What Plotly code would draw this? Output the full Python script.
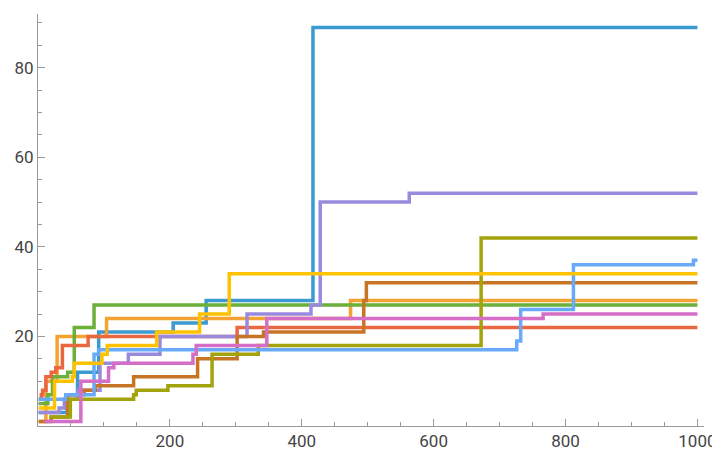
import plotly.graph_objects as go

# running-maximum step series: (x where value changes, new value)
blue_x = [1, 44, 60, 92, 205, 255, 417, 1000]
blue_y = [3, 7, 12, 21, 23, 28, 89, 89]
orange_x = [1, 12, 29, 104, 474, 1000]
orange_y = [1, 10, 20, 24, 28, 28]
green_x = [1, 15, 22, 45, 55, 85, 1000]
green_y = [5, 7, 11, 12, 22, 27, 27]
red_x = [1, 5, 7, 12, 20, 27, 37, 76, 302, 1000]
red_y = [6, 7, 8, 11, 12, 13, 18, 20, 22, 22]
purple_x = [1, 32, 40, 60, 94, 137, 185, 317, 414, 428, 563, 1000]
purple_y = [3, 4, 6, 8, 14, 16, 20, 25, 27, 50, 52, 52]
brown_x = [1, 20, 45, 70, 87, 145, 242, 302, 342, 494, 498, 1000]
brown_y = [1, 2, 7, 8, 9, 11, 15, 20, 21, 28, 32, 32]
olive_x = [17, 49, 145, 149, 197, 264, 334, 672, 1000]
olive_y = [2, 6, 7, 8, 9, 16, 18, 42, 42]
lightblue_x = [1, 42, 85, 92, 726, 732, 812, 994, 1000]
lightblue_y = [6, 7, 16, 17, 19, 26, 36, 37, 37]
pink_x = [10, 65, 107, 115, 235, 240, 347, 766, 1000]
pink_y = [1, 10, 13, 14, 16, 18, 24, 25, 25]
yellow_x = [1, 25, 52, 55, 97, 105, 180, 245, 290, 1000]
yellow_y = [4, 10, 11, 14, 16, 18, 21, 25, 34, 34]

series = [
    (blue_x, blue_y, "#3b9ad0"),
    (orange_x, orange_y, "#f4a232"),
    (green_x, green_y, "#6bb03a"),
    (red_x, red_y, "#e9683f"),
    (purple_x, purple_y, "#9a8ade"),
    (brown_x, brown_y, "#c77524"),
    (olive_x, olive_y, "#a3a30c"),
    (lightblue_x, lightblue_y, "#68aaf7"),
    (pink_x, pink_y, "#d46ec6"),
    (yellow_x, yellow_y, "#fec200"),
]

fig = go.Figure()
for xs, ys, c in series:
    fig.add_trace(go.Scatter(x=xs, y=ys, mode="lines", line_shape="hv",
                             line=dict(color=c, width=3.5), showlegend=False))

axis_style = dict(showgrid=False, zeroline=False, showline=True, linecolor="#999",
                  linewidth=1, ticks="inside", ticklen=7, tickcolor="#999",
                  tickfont=dict(family="Roboto", size=17, color="#444"))
fig.update_xaxes(range=[0, 1010], tickvals=[200, 400, 600, 800, 1000],
                 minor=dict(dtick=50, ticklen=4, ticks="inside", tickcolor="#999"),
                 **axis_style)
fig.update_yaxes(range=[0, 92], tickvals=[20, 40, 60, 80],
                 minor=dict(dtick=5, ticklen=4, ticks="inside", tickcolor="#999"),
                 **axis_style)
fig.update_layout(width=720, height=454, plot_bgcolor="white", paper_bgcolor="white",
                  margin=dict(l=28, r=24, t=6, b=36))
fig.write_html("out.html")
